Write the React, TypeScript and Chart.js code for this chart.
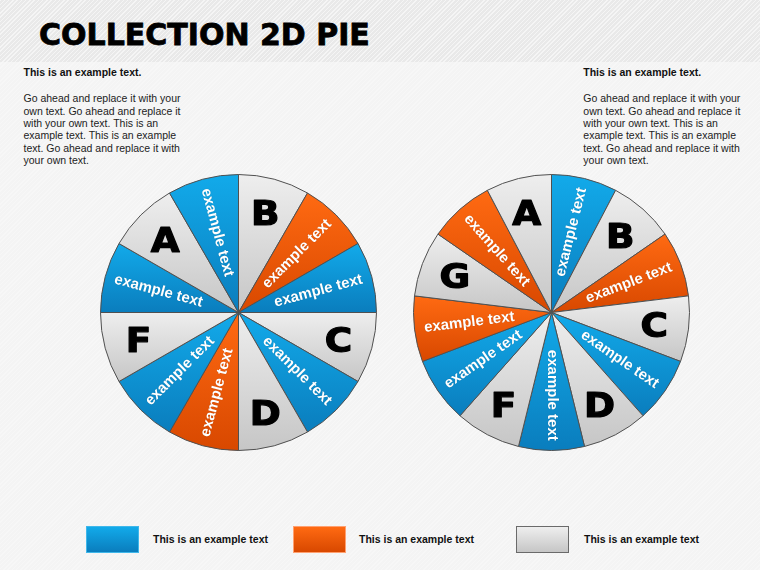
import React, { useEffect, useRef } from "react";
import { Chart, registerables } from "chart.js";

Chart.register(...registerables);

// ---------- data ----------
const TITLE = "COLLECTION 2D PIE";

const LEFT_LABELS = ["B", "example text", "example text", "C", "example text", "D", "example text", "example text", "F", "example text", "A", "example text"];
const LEFT_VALUES = [1, 1, 1, 1, 1, 1, 1, 1, 1, 1, 1, 1];
const LEFT_GROUPS = ["gray", "orange", "blue", "gray", "blue", "gray", "orange", "blue", "gray", "blue", "gray", "blue"];

const RIGHT_LABELS = ["example text", "B", "example text", "C", "example text", "D", "example text", "F", "example text", "example text", "G", "example text", "A"];
const RIGHT_VALUES = [1, 1, 1, 1, 1, 1, 1, 1, 1, 1, 1, 1, 1];
const RIGHT_GROUPS = ["blue", "gray", "orange", "gray", "blue", "gray", "blue", "gray", "blue", "orange", "gray", "orange", "gray"];

const LEGEND_GROUPS = ["blue", "orange", "gray"];
const LEGEND_TEXTS = ["This is an example text", "This is an example text", "This is an example text"];

const SIDE_HEADING = "This is an example text.";
const SIDE_LINES = [
  "Go ahead and replace it with your",
  "own text. Go ahead and replace it",
  "with your own text. This is an",
  "example text. This is an example",
  "text. Go ahead and replace it with",
  "your own text.",
];

// ---------- styles ----------
const GROUP_COLORS: Record<string, { top: string; bottom: string; border: string }> = {
  blue: { top: "#12aaea", bottom: "#0a7dbd", border: "#3fb7ea" },
  orange: { top: "#ff6a12", bottom: "#d84800", border: "#ffa070" },
  gray: { top: "#eeeeee", bottom: "#c6c6c6", border: "#6a6a6a" },
};

const PIE_SIZE = 277;
const SANS = "'Liberation Sans', Arial, sans-serif";

function sectorGradient(c: any, groups: string[]) {
  const g = GROUP_COLORS[groups[c.dataIndex]] || GROUP_COLORS.gray;
  const chart = c.chart;
  const area = chart.chartArea;
  if (!area) return g.top;
  const values: number[] = c.dataset.data;
  const total = values.reduce((s, v) => s + v, 0);
  let cum = 0;
  for (let k = 0; k < c.dataIndex; k++) cum += values[k];
  const a0 = -Math.PI / 2 + (2 * Math.PI * cum) / total;
  const a1 = a0 + (2 * Math.PI * values[c.dataIndex]) / total;
  const cx = (area.left + area.right) / 2;
  const cy = (area.top + area.bottom) / 2;
  const r = (Math.min(area.width, area.height) - 1) / 2;
  const ys = [cy, cy + r * Math.sin(a0), cy + r * Math.sin(a1)];
  if (a0 <= -Math.PI / 2 + 1e-9 || a1 >= 1.5 * Math.PI - 1e-9) ys.push(cy - r);
  if (a0 < Math.PI / 2 && a1 > Math.PI / 2) ys.push(cy + r);
  const minY = Math.min(...ys);
  const maxY = Math.max(...ys);
  const grad = chart.ctx.createLinearGradient(0, minY, 0, Math.max(maxY, minY + 1));
  grad.addColorStop(0, g.top);
  grad.addColorStop(1, g.bottom);
  return grad;
}

const sliceLabelPlugin = {
  id: "sliceLabels",
  afterDatasetsDraw(chart: any) {
    const ctx = chart.ctx;
    const meta = chart.getDatasetMeta(0);
    const labels: string[] = chart.data.labels;
    meta.data.forEach((arc: any, i: number) => {
      const p = arc.getProps(["x", "y", "startAngle", "endAngle", "outerRadius"], true);
      const mid = (p.startAngle + p.endAngle) / 2;
      const text = labels[i];
      ctx.save();
      if (text.length === 1) {
        const rr = p.outerRadius * 0.75;
        ctx.translate(p.x + Math.cos(mid) * rr, p.y + Math.sin(mid) * rr);
        ctx.scale(1.1, 1);
        ctx.font = "bold 34px 'DejaVu Sans'";
        ctx.fillStyle = "#000";
        ctx.strokeStyle = "#000";
        ctx.lineWidth = 1.2;
        ctx.lineJoin = "round";
        ctx.textAlign = "center";
        ctx.textBaseline = "alphabetic";
        ctx.fillText(text, 0, 12.5);
        ctx.strokeText(text, 0, 12.5);
      } else {
        const rr = p.outerRadius * 0.6;
        let rot = mid;
        while (rot > Math.PI) rot -= 2 * Math.PI;
        while (rot <= -Math.PI) rot += 2 * Math.PI;
        if (rot > Math.PI / 2 + 1e-9) rot -= Math.PI;
        else if (rot < -Math.PI / 2 - 1e-9) rot += Math.PI;
        ctx.translate(p.x + Math.cos(mid) * rr, p.y + Math.sin(mid) * rr);
        ctx.rotate(rot);
        ctx.font = "bold 15px 'Liberation Sans'";
        ctx.fillStyle = "#ffffff";
        ctx.textAlign = "center";
        ctx.textBaseline = "alphabetic";
        ctx.shadowColor = "rgba(0,0,0,0.25)";
        ctx.shadowBlur = 1;
        ctx.fillText(text, 0, 4);
      }
      ctx.restore();
    });
  },
};

function PieCanvas(props: { labels: string[]; values: number[]; groups: string[]; left: number; top: number }) {
  const ref = useRef<HTMLCanvasElement | null>(null);
  useEffect(() => {
    if (!ref.current) return;
    const groups = props.groups;
    const chart = new Chart(ref.current, {
      type: "pie",
      data: {
        labels: props.labels,
        datasets: [
          {
            data: props.values,
            backgroundColor: (c: any) => sectorGradient(c, groups),
            borderColor: "#505050",
            borderWidth: 1,
            hoverOffset: 0,
            offset: 0,
          },
        ],
      },
      options: {
        animation: false,
        responsive: false,
        events: [],
        layout: { padding: 0 },
        plugins: { legend: { display: false }, tooltip: { enabled: false } },
      },
      plugins: [sliceLabelPlugin],
    } as any);
    return () => chart.destroy();
  }, []);
  return (
    <canvas
      ref={ref}
      width={PIE_SIZE}
      height={PIE_SIZE}
      style={{ position: "absolute", left: props.left, top: props.top, width: PIE_SIZE, height: PIE_SIZE }}
    />
  );
}

function SideText(props: { left: number }) {
  return (
    <>
      <div
        style={{
          position: "absolute",
          left: props.left,
          top: 67,
          fontFamily: SANS,
          fontWeight: "bold",
          fontSize: 10.5,
          lineHeight: "10.5px",
          color: "#111",
          whiteSpace: "nowrap",
        }}
      >
        {SIDE_HEADING}
      </div>
      <div
        style={{
          position: "absolute",
          left: props.left,
          top: 92.2,
          fontFamily: SANS,
          fontSize: 10.5,
          lineHeight: "12.35px",
          color: "#222",
          whiteSpace: "nowrap",
        }}
      >
        {SIDE_LINES.map((l, i) => (
          <div key={i}>{l}</div>
        ))}
      </div>
    </>
  );
}

const LEGEND_RECT_X = [86, 293, 516];
const LEGEND_TEXT_X = [153, 359, 584];

export default function App() {
  return (
    <div
      style={{
        position: "absolute",
        left: 0,
        top: 0,
        width: 760,
        height: 570,
        overflow: "hidden",
        background:
          "repeating-linear-gradient(135deg, rgba(255,255,255,0.3) 0px, rgba(255,255,255,0.3) 1px, rgba(0,0,0,0) 1px, rgba(0,0,0,0) 3px), #f4f4f4",
      }}
    >
      <div
        style={{
          position: "absolute",
          left: 0,
          top: 0,
          width: 760,
          height: 62,
          background:
            "repeating-linear-gradient(135deg, rgba(255,255,255,0.55) 0px, rgba(255,255,255,0.55) 1px, rgba(0,0,0,0) 1px, rgba(0,0,0,0) 3px), #e9e9e9",
        }}
      />
      <div
        style={{
          position: "absolute",
          left: 39,
          top: 19.6,
          fontFamily: "'DejaVu Sans', sans-serif",
          fontWeight: "bold",
          fontSize: 30,
          lineHeight: "30px",
          color: "#000",
          whiteSpace: "nowrap",
          WebkitTextStroke: "0.8px #000",
        }}
      >
        {TITLE}
      </div>
      <SideText left={23.5} />
      <SideText left={583.3} />
      <PieCanvas labels={LEFT_LABELS} values={LEFT_VALUES} groups={LEFT_GROUPS} left={100} top={174} />
      <PieCanvas labels={RIGHT_LABELS} values={RIGHT_VALUES} groups={RIGHT_GROUPS} left={413} top={174} />
      {LEGEND_GROUPS.map((g, i) => {
        const c = GROUP_COLORS[g];
        return (
          <React.Fragment key={i}>
            <div
              style={{
                position: "absolute",
                left: LEGEND_RECT_X[i],
                top: 525.5,
                width: 53,
                height: 27,
                boxSizing: "border-box",
                border: `1px solid ${c.border}`,
                background: `linear-gradient(${c.top}, ${c.bottom})`,
              }}
            />
            <div
              style={{
                position: "absolute",
                left: LEGEND_TEXT_X[i],
                top: 533.6,
                fontFamily: SANS,
                fontWeight: "bold",
                fontSize: 10.5,
                lineHeight: "10.5px",
                color: "#111",
                whiteSpace: "nowrap",
              }}
            >
              {LEGEND_TEXTS[i]}
            </div>
          </React.Fragment>
        );
      })}
    </div>
  );
}
